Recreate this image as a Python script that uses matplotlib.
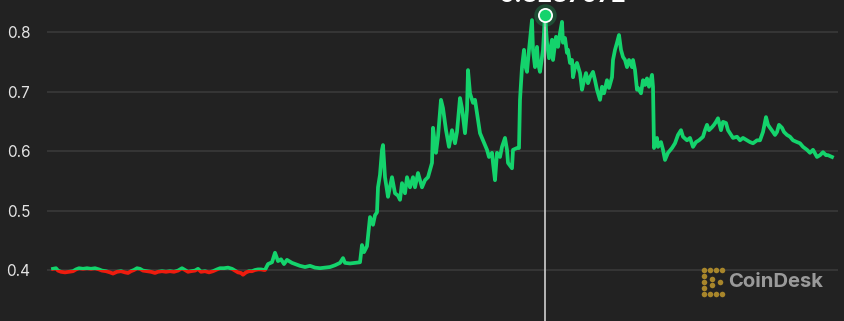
import matplotlib
matplotlib.use("Agg")
import matplotlib.pyplot as plt
from matplotlib.patches import Rectangle

# ---- data (time index, price) ----
t = [53, 56, 58, 61, 65, 69, 73, 76, 79, 83, 87, 91, 95, 99, 102, 106, 110, 113, 117, 121,
     125, 128, 131, 134, 137, 140, 143, 147, 151, 155, 158, 162, 166, 170, 174, 178, 182, 185,
     188, 191, 195, 198, 201, 205, 209, 213, 217, 220, 224, 228, 232, 235, 238, 241, 243, 246,
     249, 252, 255, 258, 261, 264,
     265, 268, 272, 275, 278, 281, 284, 287, 292, 300, 305, 310, 315, 320, 325, 330, 335, 340,
     343, 345, 350, 355, 360, 362, 364, 367, 370, 373, 375, 377, 378, 380, 382, 383, 385, 388,
     390, 392, 395, 398, 400, 402, 405, 407, 410, 413, 415, 418, 422, 425, 428, 432, 433, 436,
     438, 441, 443, 446, 449, 452, 455, 457, 460, 462, 465, 467, 468, 470, 473, 475, 477, 480,
     483, 487, 489, 492, 493, 495, 497, 500, 502, 505, 507, 508, 512, 513, 517, 519, 520, 522,
     524, 525, 527, 529, 532, 533, 535, 537, 538, 540, 542, 543, 545, 547, 549, 552, 553, 556,
     558, 560, 562, 563, 565, 567, 568, 570, 572, 573, 575, 577, 580, 582, 583, 586, 588, 590,
     593, 595, 597, 600, 602, 604, 607, 609, 612, 613, 615, 617, 619, 621, 623, 625, 627, 629,
     632, 633, 635, 637, 638, 641, 643, 645, 647, 649, 652, 653, 654, 657, 658, 661, 663, 665,
     668, 672, 675, 678, 681, 683, 687, 690, 693, 696, 699, 703, 705, 707, 709, 712, 714, 716,
     718, 721, 723, 726, 728, 731, 733, 737, 740, 743, 747, 750, 753, 757, 760, 763, 766, 768,
     770, 773, 775, 777, 779, 782, 784, 787, 790, 793, 797, 800, 803, 807, 810, 813, 817, 820,
     823, 826, 828, 832]
price = [0.402, 0.403, 0.399, 0.397, 0.396, 0.397, 0.398, 0.401, 0.403, 0.402, 0.403, 0.402,
         0.403, 0.401, 0.399, 0.398, 0.396, 0.394, 0.397, 0.398, 0.396, 0.395, 0.398, 0.400,
         0.403, 0.402, 0.399, 0.398, 0.397, 0.395, 0.397, 0.398, 0.397, 0.398, 0.397, 0.399,
         0.403, 0.400, 0.397, 0.398, 0.399, 0.402, 0.397, 0.398, 0.396, 0.398, 0.401, 0.403,
         0.403, 0.404, 0.402, 0.399, 0.396, 0.395, 0.392, 0.396, 0.398, 0.398, 0.400, 0.401,
         0.401, 0.400,
         0.400, 0.410, 0.413, 0.429, 0.415, 0.418, 0.410, 0.417, 0.412, 0.407, 0.405, 0.407,
         0.404, 0.403, 0.404, 0.405, 0.408, 0.412, 0.420, 0.412, 0.411, 0.412, 0.413, 0.442,
         0.430, 0.440, 0.489, 0.476, 0.492, 0.497, 0.539, 0.560, 0.602, 0.610, 0.556, 0.523,
         0.540, 0.556, 0.529, 0.525, 0.518, 0.546, 0.529, 0.556, 0.539, 0.556, 0.539, 0.563,
         0.539, 0.551, 0.556, 0.580, 0.639, 0.597, 0.624, 0.686, 0.672, 0.635, 0.607, 0.635,
         0.613, 0.632, 0.689, 0.672, 0.630, 0.669, 0.736, 0.697, 0.681, 0.686, 0.664, 0.630,
         0.618, 0.602, 0.590, 0.597, 0.580, 0.551, 0.597, 0.590, 0.607, 0.622, 0.602, 0.580,
         0.571, 0.602, 0.605, 0.605, 0.686, 0.741, 0.770, 0.745, 0.733, 0.770, 0.820, 0.770,
         0.741, 0.775, 0.748, 0.733, 0.758, 0.770, 0.8287, 0.782, 0.756, 0.787, 0.753, 0.792,
         0.775, 0.798, 0.817, 0.782, 0.790, 0.765, 0.770, 0.748, 0.753, 0.724, 0.741, 0.748,
         0.731, 0.703, 0.711, 0.731, 0.714, 0.724, 0.733, 0.719, 0.703, 0.686, 0.708, 0.697,
         0.719, 0.706, 0.724, 0.753, 0.770, 0.782, 0.795, 0.770, 0.758, 0.753, 0.741, 0.753,
         0.741, 0.753, 0.736, 0.703, 0.706, 0.697, 0.719, 0.711, 0.722, 0.708, 0.728, 0.708,
         0.605, 0.622, 0.607, 0.615, 0.602, 0.585, 0.597, 0.605, 0.613, 0.627, 0.635, 0.624,
         0.618, 0.622, 0.607, 0.615, 0.618, 0.624, 0.635, 0.644, 0.635, 0.640, 0.644, 0.649,
         0.655, 0.635, 0.649, 0.647, 0.635, 0.627, 0.622, 0.624, 0.618, 0.622, 0.618, 0.615,
         0.613, 0.618, 0.618, 0.632, 0.657, 0.644, 0.639, 0.632, 0.627, 0.632, 0.644, 0.639,
         0.632, 0.627, 0.624, 0.618, 0.615, 0.613, 0.607, 0.602, 0.597, 0.602, 0.590, 0.593,
         0.598, 0.593, 0.593, 0.590]
yticks = [0.4, 0.5, 0.6, 0.7, 0.8]
ytick_labels = ["0.4", "0.5", "0.6", "0.7", "0.8"]
baseline = 0.4
peak_label = "0.8287072"

BG = "#222222"
GREEN = "#14d36c"
RED = "#ee1c0e"

fig = plt.figure(figsize=(8.45, 3.21), dpi=100, facecolor=BG)
ax = fig.add_axes([47 / 845, 0, 791 / 845, 1])
ax.set_facecolor(BG)
ax.set_xlim(47, 838)
ax.set_ylim(0.3143, 0.8538)

for s in ax.spines.values():
    s.set_visible(False)
ax.set_xticks([])
ax.set_yticks(yticks)
ax.set_yticklabels(ytick_labels)
ax.tick_params(axis="y", length=0, pad=12, labelsize=11, labelcolor="#e4e4e4")
for lab in ax.get_yticklabels():
    lab.set_fontfamily(["Inter", "DejaVu Sans"])
ax.grid(axis="y", color="#3b3b3b", linewidth=1.1)
ax.set_axisbelow(True)

# green above baseline, red below
lg, = ax.plot(t, price, color=GREEN, lw=2.7, solid_joinstyle="round", zorder=3)
lr, = ax.plot(t, price, color=RED, lw=2.7, solid_joinstyle="round", zorder=3)
clip_up = Rectangle((0, baseline), 2000, 1, transform=ax.transData)
clip_dn = Rectangle((0, baseline - 1), 2000, 1, transform=ax.transData)
lg.set_clip_path(clip_up)
lr.set_clip_path(clip_dn)

# peak marker & crosshair
i_peak = max(range(len(price)), key=lambda i: price[i])
tp, vp = t[i_peak], price[i_peak]
ax.plot([tp, tp], [0.3143, vp], color="#cfcfcf", lw=1.2, zorder=4, clip_on=False)
ax.scatter([tp], [vp], s=260, color=GREEN, alpha=0.25, zorder=5, linewidths=0, clip_on=False)
ax.scatter([tp], [vp], s=90, color=GREEN, edgecolors="white", linewidths=1.3, zorder=6,
           clip_on=False)

fig.text(563 / 845, 1 - 2 / 321, peak_label, ha="center", va="baseline", color="white",
         fontsize=17, fontweight="bold", family=["Inter", "DejaVu Sans"])

# CoinDesk watermark
fig.text(728 / 845, 1 - 282 / 321, "CoinDesk", ha="left", va="center", color="#9a9a9a",
         fontsize=14.6, fontweight="bold", family=["Inter", "DejaVu Sans"])
gold = "#a8862b"
dots = [(704, 270), (710, 270), (716, 270), (722, 270),
        (704, 276), (704, 282), (704, 288),
        (704, 294), (710, 294), (716, 294), (722, 294),
        (712, 279), (712, 285), (720, 282)]
fig_ax = fig.add_axes([0, 0, 1, 1], facecolor="none")
fig_ax.set_xlim(0, 845)
fig_ax.set_ylim(321, 0)
fig_ax.axis("off")
fig_ax.scatter([d[0] for d in dots], [d[1] for d in dots], s=16, marker="o", color=gold,
               linewidths=0)

fig.savefig("out.png", dpi=100, facecolor=BG)
